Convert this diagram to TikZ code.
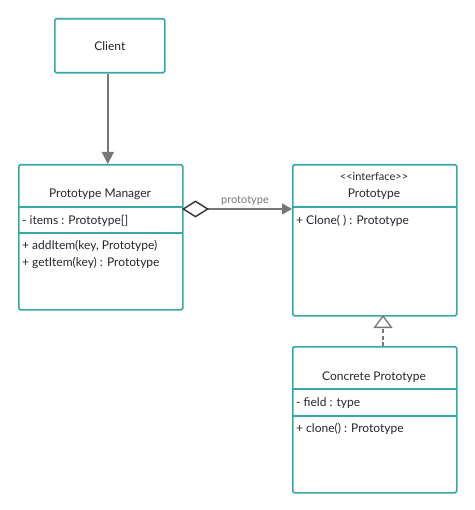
\documentclass[tikz,border=0pt]{standalone}
\usepackage{fontspec}
\setmainfont{Lato}
\usetikzlibrary{arrows.meta}
\definecolor{teal1}{HTML}{35A9A6}
\definecolor{txt}{HTML}{26262E}
\definecolor{conn}{HTML}{777777}
\tikzset{
  x=1pt, y=-1pt,
  umlbox/.style={draw=teal1, line width=1.6pt, rounded corners=1.5pt, fill=white, inner sep=0pt, anchor=north west},
  sep/.style={draw=teal1, line width=1.3pt},
  title/.style={font=\fontsize{12}{14}\selectfont, text=txt, inner sep=0pt},
  member/.style={font=\fontsize{12}{14}\selectfont, text=txt, inner sep=0pt, anchor=west},
  conline/.style={draw=conn, line width=1.5pt},
}
\begin{document}
\begin{tikzpicture}
\useasboundingbox (0,0) rectangle (474,510);
% Client
\node[umlbox, minimum width=110pt, minimum height=54pt] (client) at (54,18) {};
\node[title] (clientt) at (client.center) {Client};
% Prototype Manager
\node[umlbox, minimum width=164pt, minimum height=145pt] (pm) at (18,164) {};
\draw[sep] (18,207) -- (182,207);
\draw[sep] (18,233) -- (182,233);
\node[title] (pmt) at (100,194) {Prototype Manager};
\node[member] (pm1) at (22,221) {- items : Prototype[]};
\node[member] (pm2) at (22,246) {+ addItem(key, Prototype)};
\node[member] (pm3) at (22,263) {+ getItem(key) : Prototype};
% Prototype
\node[umlbox, minimum width=164pt, minimum height=151pt] (pr) at (292,164) {};
\draw[sep] (292,207) -- (456,207);
\node[title, font=\fontsize{11}{13}\selectfont] (prs) at (374,177) {{<}{<}interface{>}{>}};
\node[title] (prt) at (374,194) {Prototype};
\node[member] (pr1) at (296,221) {+ Clone( ) : Prototype};
% Concrete Prototype
\node[umlbox, minimum width=164pt, minimum height=146pt] (cp) at (292,346) {};
\draw[sep] (292,389) -- (456,389);
\draw[sep] (292,416) -- (456,416);
\node[title] (cpt) at (374,377) {Concrete Prototype};
\node[member] (cp1) at (296,403) {- field : type};
\node[member] (cp2) at (296,429) {+ clone() : Prototype};
% connectors
\draw[conline, -{Triangle[length=12pt, width=12pt]}] ([xshift=-2pt]client.south) -- ([xshift=-2pt]client.south |- pm.north);
\coordinate (agA) at (182,209);
\coordinate (agB) at (292,209);
\draw[conline, {Diamond[open, length=27pt, width=17pt, line width=1.4pt, color=black!80]}-{Triangle[length=10pt, width=11pt]}] (agA) -- (agB);
\node[font=\fontsize{11}{13}\selectfont, text=conn, inner sep=0pt] (lbl) at (245,201) {prototype};
\coordinate (reA) at (383,346);
\coordinate (reB) at (383,315);
\draw[conline, line width=1.3pt, dash pattern=on 4pt off 2.5pt, -{Triangle[open, length=13pt, width=19pt, line width=1.3pt]}] (reA) -- (reB);
\end{tikzpicture}
\end{document}
